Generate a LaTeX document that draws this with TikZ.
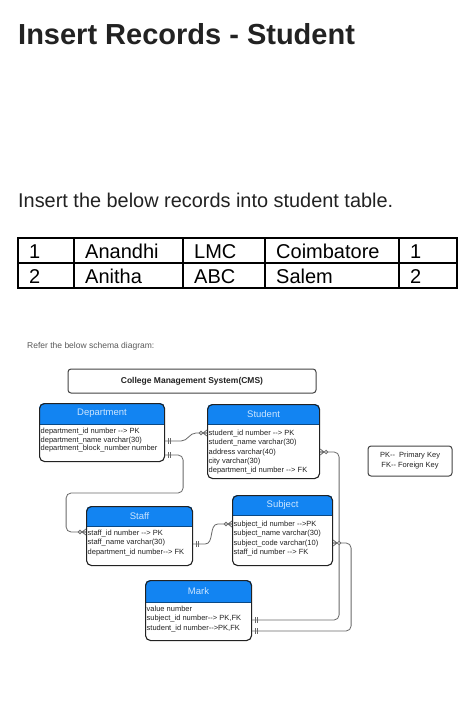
\documentclass[tikz,border=0pt]{standalone}
\usepackage{fontspec}
\setmainfont{Liberation Sans}
\definecolor{hdrBlue}{RGB}{18, 132, 242}
\definecolor{hdrText}{RGB}{205, 230, 255}
\definecolor{ink}{RGB}{34, 34, 34}
\definecolor{wireGray}{RGB}{105, 105, 105}
\usetikzlibrary{positioning, calc, backgrounds}

\begin{document}
\begin{tikzpicture}[
    x=1pt, y=-1pt,
    entity/.style={draw=ink, line width=1.1pt, rounded corners=5pt,
                   anchor=north west, inner sep=0pt},
    hdr/.style={text=hdrText, font=\fontsize{9.5}{11}\selectfont, inner sep=0pt},
    attrs/.style={anchor=north west, align=left, inner sep=0pt, text=ink,
                  font=\fontsize{7.5}{9.3}\selectfont},
    note/.style={draw=ink!85, line width=1pt, rounded corners=3pt, inner sep=0pt,
                 text=ink},
    cell/.style={anchor=base west, inner sep=0pt, text=black,
                 font=\fontsize{20}{24}\selectfont},
    wire/.style={draw=wireGray, line width=0.8pt},
    one/.pic={\draw[wire] (3,-3) -- (3,3) (5.5,-3) -- (5.5,3);},
    many/.pic={\draw[wire] (0,-3) -- (4,0) -- (0,3) (0,0) -- (4,0);
               \draw[wire, fill=white] (6,0) circle (1.7);},
  ]
    \useasboundingbox (0,0) rectangle (474,714);

    % heading and records
    \node[anchor=base west, inner sep=0pt, text=ink,
          font=\fontsize{29}{34}\selectfont\bfseries] (title) at (18,44.5) {Insert Records - Student};
    \node[anchor=base west, inner sep=0pt, text=ink,
          font=\fontsize{19.9}{24}\selectfont] (intro) at (18,207) {Insert the below records into student table.};

    \draw[black, line width=1.5pt] (18,238) rectangle (457,288);
    \draw[black, line width=1.5pt] (18,263) -- (457,263)
        (74,238) -- (74,288) (183,238) -- (183,288)
        (265,238) -- (265,288) (399,238) -- (399,288);

    \node[cell] (r1c1) at (29,258) {1};
    \node[cell] (r1c2) at (85,258) {Anandhi};
    \node[cell] (r1c3) at (194,258) {LMC};
    \node[cell] (r1c4) at (276,258) {Coimbatore};
    \node[cell] (r1c5) at (410,258) {1};
    \node[cell] (r2c1) at (29,283) {2};
    \node[cell] (r2c2) at (85,283) {Anitha};
    \node[cell] (r2c3) at (194,283) {ABC};
    \node[cell] (r2c4) at (276,283) {Salem};
    \node[cell] (r2c5) at (410,283) {2};

    % schema
    \node[anchor=base west, inner sep=0pt, text=black!65,
          font=\fontsize{8.5}{10}\selectfont] (refer) at (27,348) {Refer the below schema diagram:};
    \node[note, minimum width=248pt, minimum height=24pt,
          font=\fontsize{8.5}{10}\selectfont\bfseries] (cms) at (192,381) {College Management System(CMS)};
    \node[note, minimum width=84pt, minimum height=30pt, align=center,
          font=\fontsize{7.5}{10}\selectfont] (legend) at (410,461) {PK-{}- \ Primary Key\\FK-{}- Foreign Key};

    \node[entity, minimum width=125pt, minimum height=58pt] (dept) at (39,403) {};
    \node[entity, minimum width=112pt, minimum height=74pt] (stud) at (207,404) {};
    \node[entity, minimum width=106pt, minimum height=59pt] (staff) at (86,506) {};
    \node[entity, minimum width=100pt, minimum height=70pt] (subj) at (232,495) {};
    \node[entity, minimum width=106pt, minimum height=60pt] (mark) at (145,580) {};

    \node[hdr] (deptT) at ([yshift=-10.5pt]dept.north) {Department};
    \node[hdr] (studT) at ([yshift=-10pt]stud.north) {Student};
    \node[hdr] (staffT) at ([yshift=-10pt]staff.north) {Staff};
    \node[hdr] (subjT) at ([yshift=-10pt]subj.north) {Subject};
    \node[hdr] (markT) at ([yshift=-11pt]mark.north) {Mark};

    \node[attrs, font=\fontsize{7.5}{8.6}\selectfont] (deptA) at ([xshift=1.5pt, yshift=-25pt]dept.north west)
        {department\_id number -{}-> PK\\department\_name varchar(30)\\department\_block\_number number};
    \node[attrs] (studA) at ([xshift=1.5pt, yshift=-26pt]stud.north west)
        {student\_id number -{}-> PK\\student\_name varchar(30)\\address varchar(40)\\city varchar(30)\\department\_id number -{}-> FK};
    \node[attrs] (staffA) at ([xshift=1.5pt, yshift=-24pt]staff.north west)
        {staff\_id number -{}-> PK\\staff\_name varchar(30)\\department\_id number-{}-> FK};
    \node[attrs] (subjA) at ([xshift=1.5pt, yshift=-26pt]subj.north west)
        {subject\_id number -{}->PK\\subject\_name varchar(30)\\subject\_code varchar(10)\\staff\_id number -{}-> FK};
    \node[attrs] (markA) at ([xshift=1.5pt, yshift=-26pt]mark.north west)
        {value number\\subject\_id number-{}-> PK,FK\\student\_id number-{}->PK,FK};

    \begin{scope}[on background layer]
      \fill[white] (0,0) rectangle (474,714);
      \foreach \e/\h in {dept/21, stud/20, staff/20, subj/20, mark/22}{
        \begin{scope}
          \clip[rounded corners=5pt] (\e.north west) rectangle (\e.south east);
          \fill[hdrBlue] (\e.north west) rectangle ([yshift=-\h pt]\e.north east);
        \end{scope}
        \draw[hdrBlue!55!black, line width=0.6pt] ([yshift=-\h pt]\e.north west) -- ([yshift=-\h pt]\e.north east);
      }
    \end{scope}

    % relations
    \coordinate (deptR1) at ([yshift=-38pt]dept.north east);
    \coordinate (deptR2) at ([yshift=-52pt]dept.north east);
    \coordinate (studL) at ([yshift=-29pt]stud.north west);
    \coordinate (studR) at ([yshift=-48pt]stud.north east);
    \coordinate (staffL) at ([yshift=-26pt]staff.north west);
    \coordinate (staffR) at ([yshift=-38pt]staff.north east);
    \coordinate (subjL) at ([yshift=-29pt]subj.north west);
    \coordinate (subjR) at ([yshift=-48pt]subj.north east);
    \coordinate (markR1) at ([yshift=-40pt]mark.north east);
    \coordinate (markR2) at ([yshift=-51pt]mark.north east);

    \draw[wire] (deptR1) -- ++(16,0) to[out=0, in=180] ($(studL)+(-11,0)$) -- (studL);
    \draw[wire, rounded corners=5pt] (deptR2) -- ++(18,0) |- ++(-117,38) |- (staffL);
    \draw[wire] (staffR) -- ++(12,0) to[out=0, in=180] ($(subjL)+(-14,0)$) -- (subjL);
    \draw[wire, rounded corners=5pt] (studR) -- ++(19,0) |- (markR1);
    \draw[wire, rounded corners=5pt] (subjR) -- ++(18,0) |- (markR2);

    \pic at (deptR1) {one};
    \pic at (deptR2) {one};
    \pic at (staffR) {one};
    \pic at (markR1) {one};
    \pic at (markR2) {one};
    \pic[rotate=180] at (studL) {many};
    \pic[rotate=180] at (staffL) {many};
    \pic[rotate=180] at (subjL) {many};
    \pic at (studR) {many};
    \pic at (subjR) {many};
  \end{tikzpicture}
\end{document}
